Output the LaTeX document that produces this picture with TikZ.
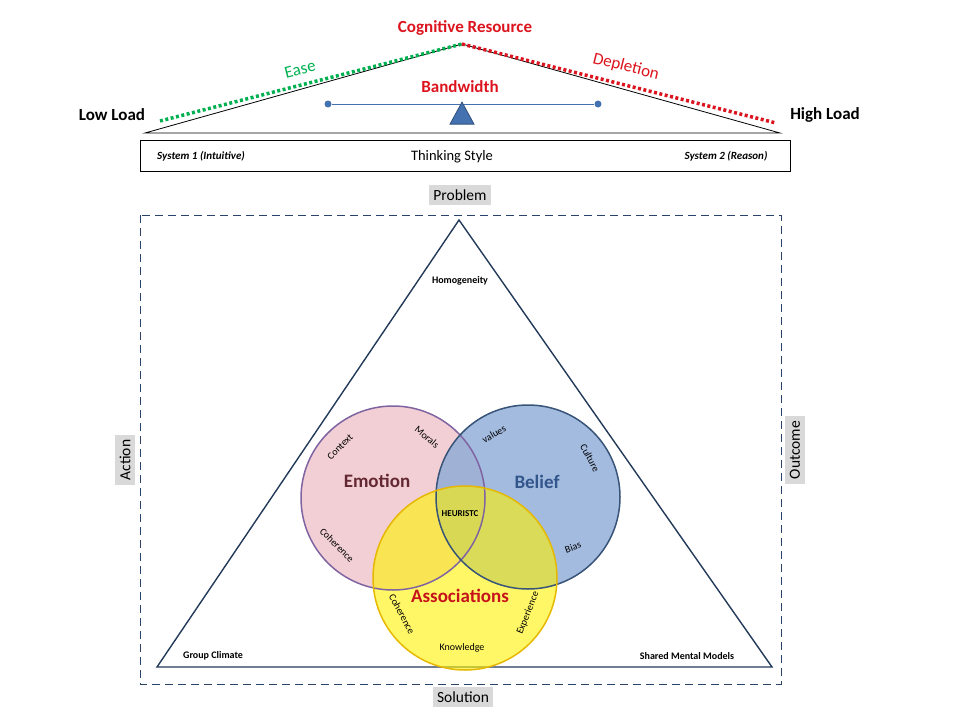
\documentclass[tikz,border=0pt]{standalone}
\usepackage{fontspec}
\setmainfont{Carlito}
\usetikzlibrary{shapes.geometric}
\begin{document}
\begin{tikzpicture}[x=1pt,y=-1pt,
  lbl/.style={fill=black!15,inner sep=4.5pt,font=\fontsize{15.5}{17}\selectfont},
  tiny/.style={font=\fontsize{10}{11}\selectfont},
  tb/.style={font=\fontsize{10}{11}\selectfont\bfseries},
  sm/.style={font=\fontsize{11}{12}\selectfont\bfseries\itshape},
  big/.style={font=\fontsize{17}{19}\selectfont\bfseries}]
\useasboundingbox (0,0) rectangle (960,720);
\definecolor{rd}{RGB}{220,20,30}
\definecolor{gr}{RGB}{0,176,80}
\definecolor{bl}{RGB}{68,114,176}
% top
\coordinate (ap) at (462,44);
\coordinate (bl1) at (145,133);
\coordinate (br1) at (780,133);
\draw[thick] (bl1) -- (ap) -- (br1) -- cycle;
\coordinate (g1) at (160,121);
\coordinate (r1) at (776,123);
\draw[gr,line width=3.5pt,dash pattern=on 3pt off 2.5pt] (g1) -- (ap);
\draw[rd,line width=3.5pt,dash pattern=on 3pt off 2.5pt] (ap) -- (r1);
\node[big,text=rd] (cr) at (465,28) {Cognitive Resource};
\node[font=\fontsize{17}{19}\selectfont,text=gr,rotate=14] (ease) at (300,69) {Ease};
\node[font=\fontsize{17}{19}\selectfont,text=rd,rotate=-14] (dep) at (626,67) {Depletion};
\node[big,text=rd] (bw) at (460,87) {Bandwidth};
\node[circle,fill=bl,inner sep=0,minimum size=7pt] (d1) at (328,104) {};
\node[circle,fill=bl,inner sep=0,minimum size=7pt] (d2) at (598,104) {};
\draw[bl] (d1) -- (d2);
\node[isosceles triangle,shape border rotate=90,fill=bl,draw=bl!70!black,thick,inner sep=0,minimum width=24pt,minimum height=22pt,isosceles triangle stretches] (fu) at (462,117) {};
\node[big] (ll) at (112,115) {Low Load};
\node[big] (hl) at (825,115) {High Load};
\draw[thick] (140,140) rectangle (790,171);
\node[sm] (s1) at (201,156) {System 1 (Intuitive)};
\node[font=\fontsize{14.5}{16}\selectfont] (ts) at (452,157) {Thinking Style};
\node[sm] (s2) at (726,156) {System 2 (Reason)};
% bottom frame
\draw[bl!60!black,thick,dash pattern=on 8pt off 5pt] (140,215) rectangle (781,684);
\node[lbl] (pr) at (460,195) {Problem};
\node[lbl,rotate=90] (ac) at (125,460) {Action};
\node[lbl,rotate=90] (oc) at (795,450) {Outcome};
\node[lbl] (so) at (463,697) {Solution};
\coordinate (ta) at (459,220);
\coordinate (tl) at (157,667);
\coordinate (tr) at (772,667);
\draw[bl!50!black,line width=1.4pt] (ta) -- (tl) -- (tr) -- cycle;
\node[tb] (ho) at (460,281) {Homogeneity};
\node[tb] (gc) at (213,656) {Group Climate};
\node[tb] (sm) at (687,656) {Shared Mental Models};
% circles
\fill[fill={rgb,255:red,242;green,207;blue,212}] (393,498) circle (92);
\fill[fill={rgb,255:red,140;green,170;blue,215},opacity=0.8] (528,497) circle (92);
\fill[yellow,opacity=0.6] (465,578) circle (92);
\draw[color={rgb,255:red,128;green,100;blue,162},line width=1.5pt] (393,498) circle (92);
\draw[color={rgb,255:red,56;green,84;blue,120},line width=1.5pt] (528,497) circle (92);
\draw[color={rgb,255:red,230;green,184;blue,0},line width=1.5pt] (465,578) circle (92);
\node[font=\fontsize{19}{21}\selectfont\bfseries,text={rgb,255:red,100;green,40;blue,50}] (em) at (377,481) {Emotion};
\node[font=\fontsize{19}{21}\selectfont\bfseries,text={rgb,255:red,50;green,85;blue,140}] (be) at (537,482) {Belief};
\node[font=\fontsize{19}{21}\selectfont\bfseries,text=rd!90!black] (as) at (460,596) {Associations};
\node[font=\fontsize{9}{10}\selectfont\bfseries] (he) at (460,514) {HEURISTC};
\node[tiny,rotate=45] (cx) at (340,447) {Context};
\node[tiny,rotate=-40] (mo) at (427,437) {Morals};
\node[tiny,rotate=30] (va) at (494,434) {values};
\node[tiny,rotate=-62] (cu) at (590,458) {Culture};
\node[tiny,rotate=20] (bi) at (573,547) {Bias};
\node[tiny,rotate=-45] (co1) at (337,545) {Coherence};
\node[tiny,rotate=-62] (co2) at (402,614) {Coherence};
\node[tiny,rotate=68] (ex) at (528,613) {Experience};
\node[tiny] (kn) at (462,648) {Knowledge};
\end{tikzpicture}
\end{document}
